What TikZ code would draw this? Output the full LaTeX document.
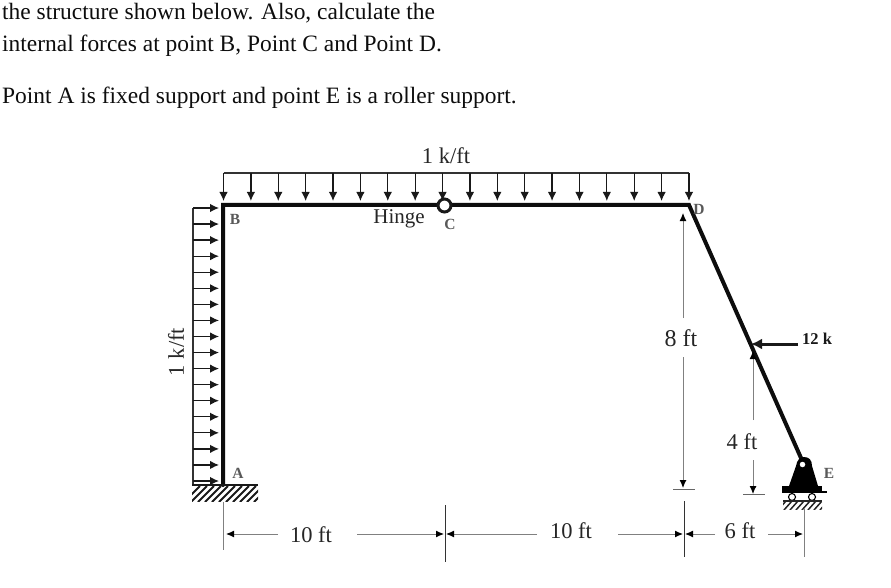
\documentclass[tikz,border=0pt]{standalone}
\usepackage{fontspec}
\setmainfont{Liberation Serif}
\usetikzlibrary{arrows.meta}
\tikzset{
  para/.style={anchor=base west,inner sep=0pt,text=black!95,font=\fontsize{23.45}{25}\selectfont},
  dimtext/.style={inner sep=0pt,text=black!85,font=\fontsize{22.5}{24}\selectfont},
  ptlabel/.style={inner sep=0pt,text=black!65,font=\bfseries\fontsize{15.5}{16}\selectfont},
  member/.style={line width=4pt,black!95,line cap=round},
  loadline/.style={line width=1.3pt,black!80},
  loadarrow/.style={line width=1.3pt,black!90,-{Latex[length=9pt,width=8.5pt]}},
  dimline/.style={line width=1pt,black!50},
  dimarrow/.style={line width=1pt,black!50,-{Latex[length=8pt,width=7pt,black]}},
  hatch/.style={line width=1.8pt,black!90},
}
\begin{document}
\begin{tikzpicture}[x=1pt,y=-1pt]
\useasboundingbox (0,0) rectangle (891,588);
\fill[white] (0,0) rectangle (891,588);
% text
\node[para] (t1) at (2,20) {the structure shown below. Also, calculate the};
\node[para] (t2) at (2,52) {internal forces at point B, Point C and Point D.};
\node[para] (t3) at (2,104) {Point A is fixed support and point E is a roller support.};
% coordinates
\coordinate (A) at (223,485);
\coordinate (B) at (223,205);
\coordinate (C) at (444.5,205.5);
\coordinate (D) at (689,205);
\coordinate (E) at (801,458);
\coordinate (F) at (751,344);
% top load
\coordinate (TL) at (223.5,173);
\coordinate (TR) at (689,173);
\draw[loadline] (TL) -- (TR);
\foreach \i in {0,...,17}{
  \draw[loadarrow] (223.5+\i*27.38,173) -- (223.5+\i*27.38,201);
}
% left load
\coordinate (LT) at (193,208);
\coordinate (LB) at (193,484);
\draw[loadline] (LT) -- (LB);
\foreach \i in {0,...,17}{
  \draw[loadarrow] (193,208+\i*16.06) -- (219,208+\i*16.06);
}
% frame
\draw[member] (A) -- (B) -- (D) -- (E);
% fixed support
\begin{scope}
\clip (192,486) rectangle (258,501);
\foreach \i in {0,...,11}{
  \draw[hatch] (184+\i*7,502) -- (184+\i*7+16,486);
}
\end{scope}
\coordinate (GL) at (192,485);
\coordinate (GR) at (258,485);
\draw[line width=2.4pt,black!90] (GL) -- (GR);
% hinge
\node[circle,draw=black!90,fill=white,line width=3pt,minimum size=13pt,inner sep=0pt] (hinge) at (C) {};
% roller support
\fill[black] (789,486) -- (796,466) .. controls (797,460) and (800,457) .. (804,457) .. controls (809,457) and (812,460) .. (812,466) -- (818,486) -- cycle;
\fill[black] (782,486) rectangle (822,493);
\draw[line width=1.8pt,black] (822,492) -- (827,492);
\node[circle,fill=white,minimum size=5.5pt,inner sep=0pt] (pin) at (802.5,464.5) {};
\node[circle,draw=black,fill=white,line width=1.1pt,minimum size=7pt,inner sep=0pt] (r1) at (792,497) {};
\node[circle,draw=black,fill=white,line width=1.1pt,minimum size=7pt,inner sep=0pt] (r2) at (812,497) {};
\coordinate (RGL) at (783,501);
\coordinate (RGR) at (822,501);
\draw[line width=1.3pt,black!85] (RGL) -- (RGR);
\begin{scope}
\clip (783,502) rectangle (822,509);
\foreach \i in {0,...,7}{
  \draw[line width=1.5pt,black!85] (778+\i*6,510) -- (778+\i*6+8,501);
}
\end{scope}
% 12 k
\coordinate (P) at (798,344);
\draw[line width=3pt,black!90,-{Latex[length=11pt,width=11pt]}] (P) -- (F);
\node[ptlabel,text=black!90,anchor=west,font=\bfseries\fontsize{16.5}{18}\selectfont] (k) at (802,339) {12 k};
% 8 ft
\coordinate (d8t) at (683,213);
\coordinate (d8a) at (683,318);
\coordinate (d8b) at (683,357);
\coordinate (d8c) at (683,488);
\draw[dimarrow] (d8a) -- (d8t);
\draw[dimarrow] (d8b) -- (d8c);
\node[dimtext,font=\fontsize{24}{26}\selectfont] (l8) at (681,338) {8 ft};
\draw[dimline,black!60] (673,489) -- (695,489);
% 4 ft
\coordinate (d4t) at (753,351);
\coordinate (d4a) at (753,420);
\coordinate (d4b) at (753,460);
\coordinate (d4c) at (753,494);
\draw[dimarrow] (d4a) -- (d4t);
\draw[dimarrow] (d4b) -- (d4c);
\node[dimtext] (l4) at (742,442) {4 ft};
\draw[dimline,black!60] (743,494) -- (765,494);
% bottom dims
\draw[dimline] (223,502) -- (223,550);
\draw[dimline,black!80] (445,505) -- (445,562);
\draw[dimline,black!80] (684,501) -- (684,557);
\draw[dimline] (804,509) -- (804,557);
\draw[dimarrow] (278,534) -- (226,534);
\node[dimtext] (b1) at (311,535) {10 ft};
\draw[dimarrow] (357,534) -- (444,534);
\draw[dimarrow] (537,534) -- (446,534);
\node[dimtext] (b2) at (571,531) {10 ft};
\draw[dimarrow] (618,534) -- (683,534);
\draw[dimarrow] (715,534) -- (685,534);
\node[dimtext] (b3) at (740,531) {6 ft};
\draw[dimarrow] (768,534) -- (803,534);
% labels
\node[dimtext] (top) at (446,156) {1 k/ft};
\node[dimtext,rotate=90] (lft) at (176,352) {1 k/ft};
\node[dimtext,font=\fontsize{21}{24}\selectfont] (hg) at (399,219) {Hinge};
\node[ptlabel] (lC) at (450,224) {C};
\node[ptlabel] (lB) at (235,219) {B};
\node[ptlabel] (lA) at (238,473) {A};
\node[ptlabel] (lD) at (699,209) {D};
\node[ptlabel] (lE) at (829,473) {E};
\end{tikzpicture}
\end{document}
